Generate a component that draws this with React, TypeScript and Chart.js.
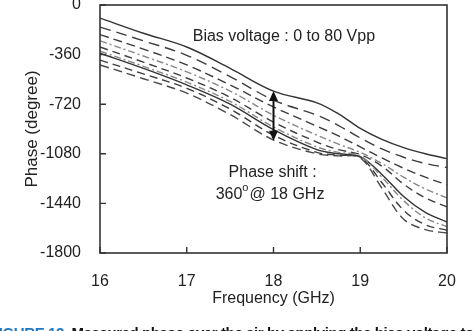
import React, { useEffect, useRef } from "react";
import { Chart, registerables } from "chart.js";

Chart.register(...registerables);

const frequencies = [16, 16.5, 17, 17.5, 18, 18.5, 18.75, 19, 19.25, 19.5, 19.75, 20];

const phase1 = [-95, -205, -305, -460, -625, -710, -790, -895, -975, -1035, -1080, -1115];
const phase2 = [-160, -260, -365, -520, -690, -800, -875, -965, -1045, -1105, -1150, -1180];
const phase3 = [-215, -320, -435, -580, -740, -880, -950, -1030, -1110, -1185, -1250, -1305];
const phase4 = [-260, -370, -485, -625, -800, -945, -1010, -1070, -1150, -1250, -1335, -1400];
const phase5 = [-305, -415, -530, -670, -850, -995, -1050, -1085, -1170, -1300, -1400, -1465];
const phase6 = [-335, -445, -560, -700, -885, -1030, -1070, -1095, -1250, -1420, -1545, -1610];
const phase7 = [-350, -460, -580, -720, -905, -1050, -1080, -1100, -1230, -1390, -1505, -1575];
const phase8 = [-400, -500, -605, -755, -945, -1070, -1090, -1105, -1290, -1490, -1595, -1635];
const phase9 = [-435, -535, -640, -795, -980, -1080, -1095, -1110, -1330, -1555, -1630, -1655];

const seriesList = [phase1, phase2, phase3, phase4, phase5, phase6, phase7, phase8, phase9];
const seriesStyles = [
  { color: "#333333", dash: [] as number[] },
  { color: "#3c3c3c", dash: [11, 6] },
  { color: "#3c3c3c", dash: [9, 5] },
  { color: "#888888", dash: [7, 3, 2, 3] },
  { color: "#3c3c3c", dash: [8, 5] },
  { color: "#888888", dash: [7, 3, 2, 3] },
  { color: "#333333", dash: [] as number[] },
  { color: "#3c3c3c", dash: [8, 5] },
  { color: "#4a4a4a", dash: [9, 5] },
];

const xTickValues = [16, 17, 18, 19, 20];
const yTickValues = [0, -360, -720, -1080, -1440, -1800];

const arrowFreq = 18;
const arrowTop = -625;
const arrowBottom = -985;

const biasText = "Bias voltage : 0 to 80 Vpp";
const biasPos = { x: 18.12, y: -232 };
const shiftText1 = "Phase shift :";
const shiftPos1 = { x: 17.99, y: -1219 };
const shiftText2a = "360";
const shiftText2b = "o";
const shiftText2c = "@ 18 GHz";
const shiftPos2 = { x: 17.96, y: -1379 };

const FONT = "'Liberation Sans', Arial, sans-serif";
const TEXT_COLOR = "#222222";

const decorPlugin = {
  id: "decor",
  afterDraw(chart: any) {
    const { ctx, chartArea, scales } = chart;
    const xs = scales.x;
    const ys = scales.y;
    ctx.save();
    ctx.strokeStyle = "#333333";
    ctx.lineWidth = 1.6;
    ctx.strokeRect(chartArea.left, chartArea.top, chartArea.right - chartArea.left, chartArea.bottom - chartArea.top);
    ctx.lineWidth = 1.4;
    ctx.beginPath();
    xTickValues.forEach((v) => {
      const px = xs.getPixelForValue(v);
      ctx.moveTo(px, chartArea.bottom);
      ctx.lineTo(px, chartArea.bottom - 6);
    });
    yTickValues.forEach((v) => {
      const py = ys.getPixelForValue(v);
      ctx.moveTo(chartArea.left, py);
      ctx.lineTo(chartArea.left + 6, py);
    });
    ctx.stroke();

    const ax = xs.getPixelForValue(arrowFreq);
    const aTop = ys.getPixelForValue(arrowTop);
    const aBot = ys.getPixelForValue(arrowBottom);
    ctx.strokeStyle = "#111111";
    ctx.fillStyle = "#111111";
    ctx.lineWidth = 2;
    ctx.beginPath();
    ctx.moveTo(ax, aTop + 6);
    ctx.lineTo(ax, aBot - 6);
    ctx.stroke();
    ctx.beginPath();
    ctx.moveTo(ax, aTop);
    ctx.lineTo(ax - 4.5, aTop + 10);
    ctx.lineTo(ax + 4.5, aTop + 10);
    ctx.closePath();
    ctx.fill();
    ctx.beginPath();
    ctx.moveTo(ax, aBot);
    ctx.lineTo(ax - 4.5, aBot - 10);
    ctx.lineTo(ax + 4.5, aBot - 10);
    ctx.closePath();
    ctx.fill();

    ctx.fillStyle = TEXT_COLOR;
    ctx.font = `16px ${FONT}`;
    ctx.textAlign = "center";
    ctx.textBaseline = "middle";
    ctx.fillText(biasText, xs.getPixelForValue(biasPos.x), ys.getPixelForValue(biasPos.y));
    ctx.fillText(shiftText1, xs.getPixelForValue(shiftPos1.x), ys.getPixelForValue(shiftPos1.y));

    const cx = xs.getPixelForValue(shiftPos2.x);
    const cy = ys.getPixelForValue(shiftPos2.y);
    ctx.font = `16px ${FONT}`;
    const wa = ctx.measureText(shiftText2a).width;
    const wc = ctx.measureText(shiftText2c).width;
    ctx.font = `11px ${FONT}`;
    const wb = ctx.measureText(shiftText2b).width;
    const total = wa + wb + 1 + wc;
    let x0 = cx - total / 2;
    ctx.textAlign = "left";
    ctx.font = `16px ${FONT}`;
    ctx.fillText(shiftText2a, x0, cy);
    x0 += wa;
    ctx.font = `11px ${FONT}`;
    ctx.fillText(shiftText2b, x0, cy - 7);
    x0 += wb + 1;
    ctx.font = `16px ${FONT}`;
    ctx.fillText(shiftText2c, x0, cy);
    ctx.restore();
  },
};

export default function App() {
  const canvasRef = useRef<HTMLCanvasElement | null>(null);

  useEffect(() => {
    if (!canvasRef.current) return;
    const datasets = seriesList.map((arr, i) => ({
      label: `Bias ${i + 1}`,
      data: frequencies.map((f, j) => ({ x: f, y: arr[j] })),
      borderColor: seriesStyles[i].color,
      borderDash: seriesStyles[i].dash,
      borderWidth: 1.4,
      pointRadius: 0,
      fill: false,
      tension: 0.35,
    }));

    const chart = new Chart(canvasRef.current, {
      type: "line",
      data: { datasets },
      options: {
        animation: false,
        responsive: false,
        maintainAspectRatio: false,
        layout: { padding: { left: 0, right: 27, top: 5, bottom: 0 } },
        plugins: {
          legend: { display: false },
          tooltip: { enabled: false },
        },
        scales: {
          x: {
            type: "linear",
            min: 16,
            max: 20,
            grid: { display: false },
            border: { display: false },
            ticks: {
              stepSize: 1,
              padding: 11,
              color: TEXT_COLOR,
              font: { size: 16, family: FONT },
              maxRotation: 0,
              callback: (v: any) => String(v),
            },
            title: {
              display: true,
              text: "Frequency (GHz)",
              color: TEXT_COLOR,
              font: { size: 16, family: FONT },
              padding: { top: 0, bottom: 23 },
            },
            afterFit(scale: any) {
              scale.height = 78;
              scale.paddingLeft = 0;
              scale.paddingRight = 0;
            },
          },
          y: {
            type: "linear",
            min: -1800,
            max: 0,
            grid: { display: false },
            border: { display: false },
            ticks: {
              stepSize: 360,
              padding: 11,
              color: TEXT_COLOR,
              font: { size: 16, family: FONT },
              callback: (v: any) => String(v),
            },
            title: {
              display: true,
              text: "Phase (degree)",
              color: TEXT_COLOR,
              font: { size: 17, family: FONT },
              padding: { top: 22, bottom: 0 },
            },
            afterFit(scale: any) {
              scale.width = 100;
              scale.paddingTop = 0;
              scale.paddingBottom = 0;
            },
          },
        },
      },
      plugins: [decorPlugin],
    });
    return () => chart.destroy();
  }, []);

  return (
    <div
      style={{
        position: "fixed",
        left: 0,
        top: 0,
        width: 474,
        height: 331,
        overflow: "hidden",
        background: "#ffffff",
      }}
    >
      <canvas ref={canvasRef} width={474} height={331} style={{ display: "block" }} />
      <div
        style={{
          position: "absolute",
          left: -10,
          top: 324,
          whiteSpace: "nowrap",
          fontFamily: FONT,
          fontWeight: "bold",
          fontSize: 15,
          letterSpacing: -0.4,
        }}
      >
        <span style={{ color: "#1f78c1" }}>FIGURE 12.</span>
        <span style={{ color: "#111111" }}>{"   Measured phase over the air by applying the bias voltage to"}</span>
      </div>
    </div>
  );
}
